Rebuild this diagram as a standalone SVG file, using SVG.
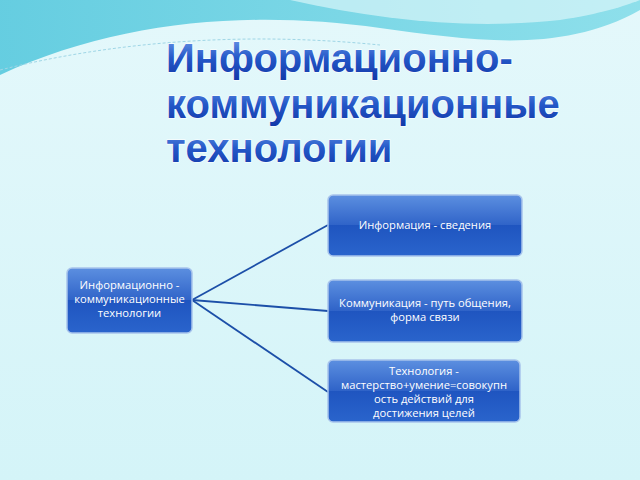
<svg xmlns="http://www.w3.org/2000/svg" width="640" height="480" viewBox="0 0 640 480">
<defs>
<linearGradient id="bg" x1="0" y1="0" x2="0" y2="1"><stop offset="0" stop-color="#e4f8fb"/><stop offset="1" stop-color="#d4f4f8"/></linearGradient>
<linearGradient id="box" x1="0" y1="0" x2="0" y2="1"><stop offset="0" stop-color="#5c8fe0"/><stop offset="0.5" stop-color="#2f63c8"/><stop offset="0.5" stop-color="#1f55c0"/><stop offset="1" stop-color="#2a64cc"/></linearGradient>
<linearGradient id="tt" x1="0" y1="0" x2="0" y2="1"><stop offset="0" stop-color="#6f9cea"/><stop offset="0.5" stop-color="#2458c8"/><stop offset="1" stop-color="#1238a8"/></linearGradient>
<linearGradient id="wave" x1="0" y1="0" x2="1" y2="0"><stop offset="0" stop-color="#4fc6dc"/><stop offset="1" stop-color="#7fdbe8"/></linearGradient>
</defs>
<style>
.node rect{fill:url(#box);stroke:#a8c4ec;stroke-width:1.5}
.node text{font-family:"Open Sans","DejaVu Sans",sans-serif;font-size:11.2px;fill:#fff;text-anchor:middle}
.title{font-family:"Liberation Sans",Arial,sans-serif;font-weight:bold;font-size:40px;fill:url(#tt);stroke:#fff;stroke-width:1.2;paint-order:stroke}
#connectors line{stroke:#1c4fa8;stroke-width:1.8}
</style>
<rect width="640" height="480" fill="url(#bg)"/>
<path d="M0,0 H640 V10 C560,55 470,40 380,28 C250,10 120,20 0,75 Z" fill="url(#wave)" opacity="0.85"/>
<path d="M290,0 C380,20 470,30 560,20 C600,14 625,6 640,0 Z" fill="#e8fafc" opacity="0.6"/>
<path d="M0,70 C120,40 250,32 380,45" fill="none" stroke="#9fd6e6" stroke-width="1" stroke-dasharray="3,2"/>
<text class="title" x="166" y="72">Информационно-</text>
<text class="title" x="166" y="118">коммуникационные</text>
<text class="title" x="166" y="162">технологии</text>
<g id="connectors">
<line x1="192" y1="300" x2="328" y2="225"/>
<line x1="192" y1="300" x2="328" y2="311"/>
<line x1="192" y1="300" x2="328" y2="392"/>
</g>
<g id="n0" class="node"><rect x="67" y="268" width="125" height="65" rx="5"/>
<text x="129.5" y="289">Информационно -</text><text x="129.5" y="303">коммуникационные</text><text x="129.5" y="317">технологии</text></g>
<g id="n1" class="node"><rect x="328" y="195" width="194" height="61" rx="5"/>
<text x="425" y="229">Информация - сведения</text></g>
<g id="n2" class="node"><rect x="328" y="280" width="194" height="62" rx="5"/>
<text x="425" y="307">Коммуникация - путь общения,</text><text x="425" y="321">форма связи</text></g>
<g id="n3" class="node"><rect x="328" y="360" width="192" height="62" rx="5"/>
<text x="424" y="375">Технология -</text><text x="424" y="389">мастерство+умение=совокупн</text><text x="424" y="403">ость действий для</text><text x="424" y="417">достижения целей</text></g>
</svg>
